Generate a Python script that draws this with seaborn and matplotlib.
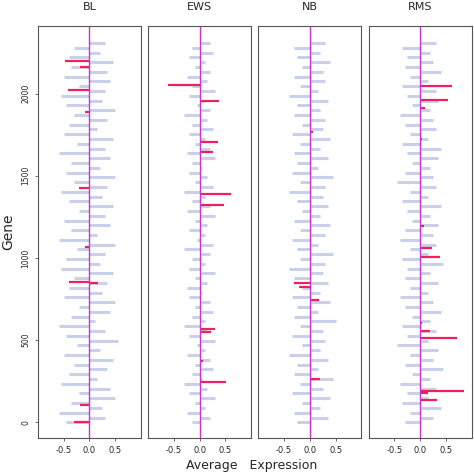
import numpy as np
import matplotlib
matplotlib.use("Agg")
import matplotlib.pyplot as plt
import seaborn as sns

classes = ["BL", "EWS", "NB", "RMS"]
n_genes = 2308

# background bars (sampled genes, evenly spread over the gene index)
bg_bl = [-0.45, 0.3, -0.6, 0.25, -0.35, 0.5, -0.2, 0.4, -0.55, 0.15, -0.4, 0.35, -0.3, 0.45,
         -0.5, 0.2, -0.25, 0.55, -0.45, 0.3, -0.6, 0.1, -0.35, 0.4, -0.2, 0.5, -0.5, 0.25,
         -0.4, 0.35, -0.3, 0.45, -0.55, 0.2, -0.45, 0.3, -0.25, 0.5, -0.6, 0.15, -0.35, 0.4,
         -0.5, 0.3, -0.2, 0.45, -0.4, 0.25, -0.55, 0.35, -0.3, 0.5, -0.45, 0.2, -0.35, 0.4,
         -0.6, 0.3, -0.25, 0.45, -0.5, 0.15, -0.4, 0.35, -0.3, 0.5, -0.45, 0.25, -0.55, 0.3,
         -0.2, 0.4, -0.5, 0.35, -0.35, 0.45, -0.4, 0.2, -0.3, 0.3]
bg_ews = [-0.15, 0.2, -0.25, 0.1, -0.1, 0.3, -0.2, 0.15, -0.3, 0.05, -0.15, 0.25, -0.1, 0.2,
          -0.25, 0.1, -0.05, 0.3, -0.2, 0.15, -0.3, 0.1, -0.15, 0.25, -0.1, 0.2, -0.2, 0.05,
          -0.25, 0.15, -0.1, 0.3, -0.2, 0.1, -0.15, 0.2, -0.3, 0.25, -0.05, 0.1, -0.2, 0.15,
          -0.1, 0.3, -0.25, 0.2, -0.15, 0.1, -0.3, 0.25, -0.1, 0.15, -0.2, 0.05, -0.15, 0.3,
          -0.25, 0.2, -0.1, 0.1, -0.2, 0.25, -0.15, 0.15, -0.3, 0.2, -0.05, 0.1, -0.2, 0.3,
          -0.15, 0.15, -0.25, 0.2, -0.1, 0.1, -0.2, 0.25, -0.15, 0.2]
bg_nb = [-0.25, 0.35, -0.3, 0.2, -0.15, 0.4, -0.35, 0.25, -0.2, 0.45, -0.3, 0.15, -0.25, 0.35,
         -0.4, 0.2, -0.15, 0.3, -0.35, 0.25, -0.2, 0.5, -0.3, 0.15, -0.25, 0.4, -0.35, 0.2,
         -0.15, 0.35, -0.3, 0.25, -0.4, 0.3, -0.2, 0.45, -0.25, 0.15, -0.35, 0.3, -0.2, 0.4,
         -0.3, 0.2, -0.15, 0.35, -0.25, 0.25, -0.4, 0.3, -0.2, 0.45, -0.35, 0.15, -0.25, 0.35,
         -0.3, 0.2, -0.2, 0.4, -0.35, 0.25, -0.15, 0.3, -0.3, 0.2, -0.25, 0.35, -0.4, 0.15,
         -0.2, 0.3, -0.3, 0.25, -0.15, 0.4, -0.25, 0.2, -0.3, 0.3]
bg_rms = [-0.3, 0.25, -0.2, 0.4, -0.35, 0.15, -0.25, 0.3, -0.4, 0.2, -0.15, 0.45, -0.3, 0.25,
          -0.2, 0.35, -0.45, 0.15, -0.25, 0.3, -0.35, 0.2, -0.15, 0.4, -0.3, 0.25, -0.4, 0.15,
          -0.2, 0.35, -0.3, 0.2, -0.25, 0.45, -0.35, 0.15, -0.2, 0.3, -0.4, 0.25, -0.3, 0.35,
          -0.15, 0.2, -0.25, 0.4, -0.35, 0.15, -0.2, 0.3, -0.45, 0.25, -0.3, 0.2, -0.15, 0.35,
          -0.25, 0.4, -0.35, 0.15, -0.2, 0.3, -0.3, 0.25, -0.4, 0.2, -0.15, 0.35, -0.25, 0.3,
          -0.35, 0.15, -0.2, 0.4, -0.3, 0.25, -0.25, 0.2, -0.35, 0.3]

# highlighted genes (gene index, value)
hl_bl_gene = [2200, 2162, 2024, 1886, 1428, 1069, 853, 845, 108, 0]
hl_bl_val = [-0.48, -0.18, -0.42, -0.08, -0.2, -0.08, -0.4, 0.17, -0.18, -0.3]
hl_ews_gene = [2052, 1957, 1708, 1647, 1392, 1321, 565, 549, 370, 245]
hl_ews_val = [-0.62, 0.37, 0.36, 0.26, 0.6, 0.48, 0.3, 0.22, 0.07, 0.52]
hl_nb_gene = [1767, 845, 826, 743, 261]
hl_nb_val = [0.07, -0.3, -0.22, 0.17, 0.2]
hl_rms_gene = [2049, 1959, 1914, 1726, 1193, 1058, 1007, 606, 557, 512, 190, 176, 133]
hl_rms_val = [0.62, 0.55, 0.1, 0.03, 0.07, 0.24, 0.38, 0.03, 0.2, 0.72, 0.85, 0.15, 0.32]

backgrounds = [bg_bl, bg_ews, bg_nb, bg_rms]
highlights = [(hl_bl_gene, hl_bl_val), (hl_ews_gene, hl_ews_val),
              (hl_nb_gene, hl_nb_val), (hl_rms_gene, hl_rms_val)]

sns.set_theme(style="ticks")
plt.rcParams['font.family'] = ['DejaVu Sans']

fig, axes = plt.subplots(1, 4, figsize=(4.74, 4.76), dpi=100, sharey=True)
fig.subplots_adjust(left=0.08, right=0.995, top=0.945, bottom=0.08, wspace=0.07)

for ax, name, bg, (hg, hv) in zip(axes, classes, backgrounds, highlights):
    genes = np.linspace(0, n_genes, len(bg))
    ax.hlines(genes, 0, bg, color="#c9d0ea", linewidth=2.2)
    ax.hlines(hg, 0, hv, color="#ee2060", linewidth=1.6)
    ax.axvline(0, color="#cc33cc", linewidth=1.0)
    ax.set_xlim(-1.0, 1.0)
    ax.set_ylim(-95, 2410)
    ax.set_xticks([-0.5, 0.0, 0.5])
    ax.set_xticklabels(["-0.5", "0.0", "0.5"], fontsize=6)
    ax.set_title(name, fontsize=8, pad=12)
    for s in ax.spines.values():
        s.set_color("#555555")
        s.set_linewidth(0.8)
    ax.tick_params(length=2, width=0.6, color="#555555")

axes[0].set_yticks([0, 500, 1000, 1500, 2000])
axes[0].set_yticklabels(["0", "500", "1000", "1500", "2000"], fontsize=5.5, rotation=90, va="center")
axes[0].set_ylabel("Gene", fontsize=10)
for ax in axes[1:]:
    ax.tick_params(axis="y", left=False)

fig.text(0.53, 0.008, "Average   Expression", ha="center", va="bottom", fontsize=9)
fig.savefig("out.png", dpi=100)
